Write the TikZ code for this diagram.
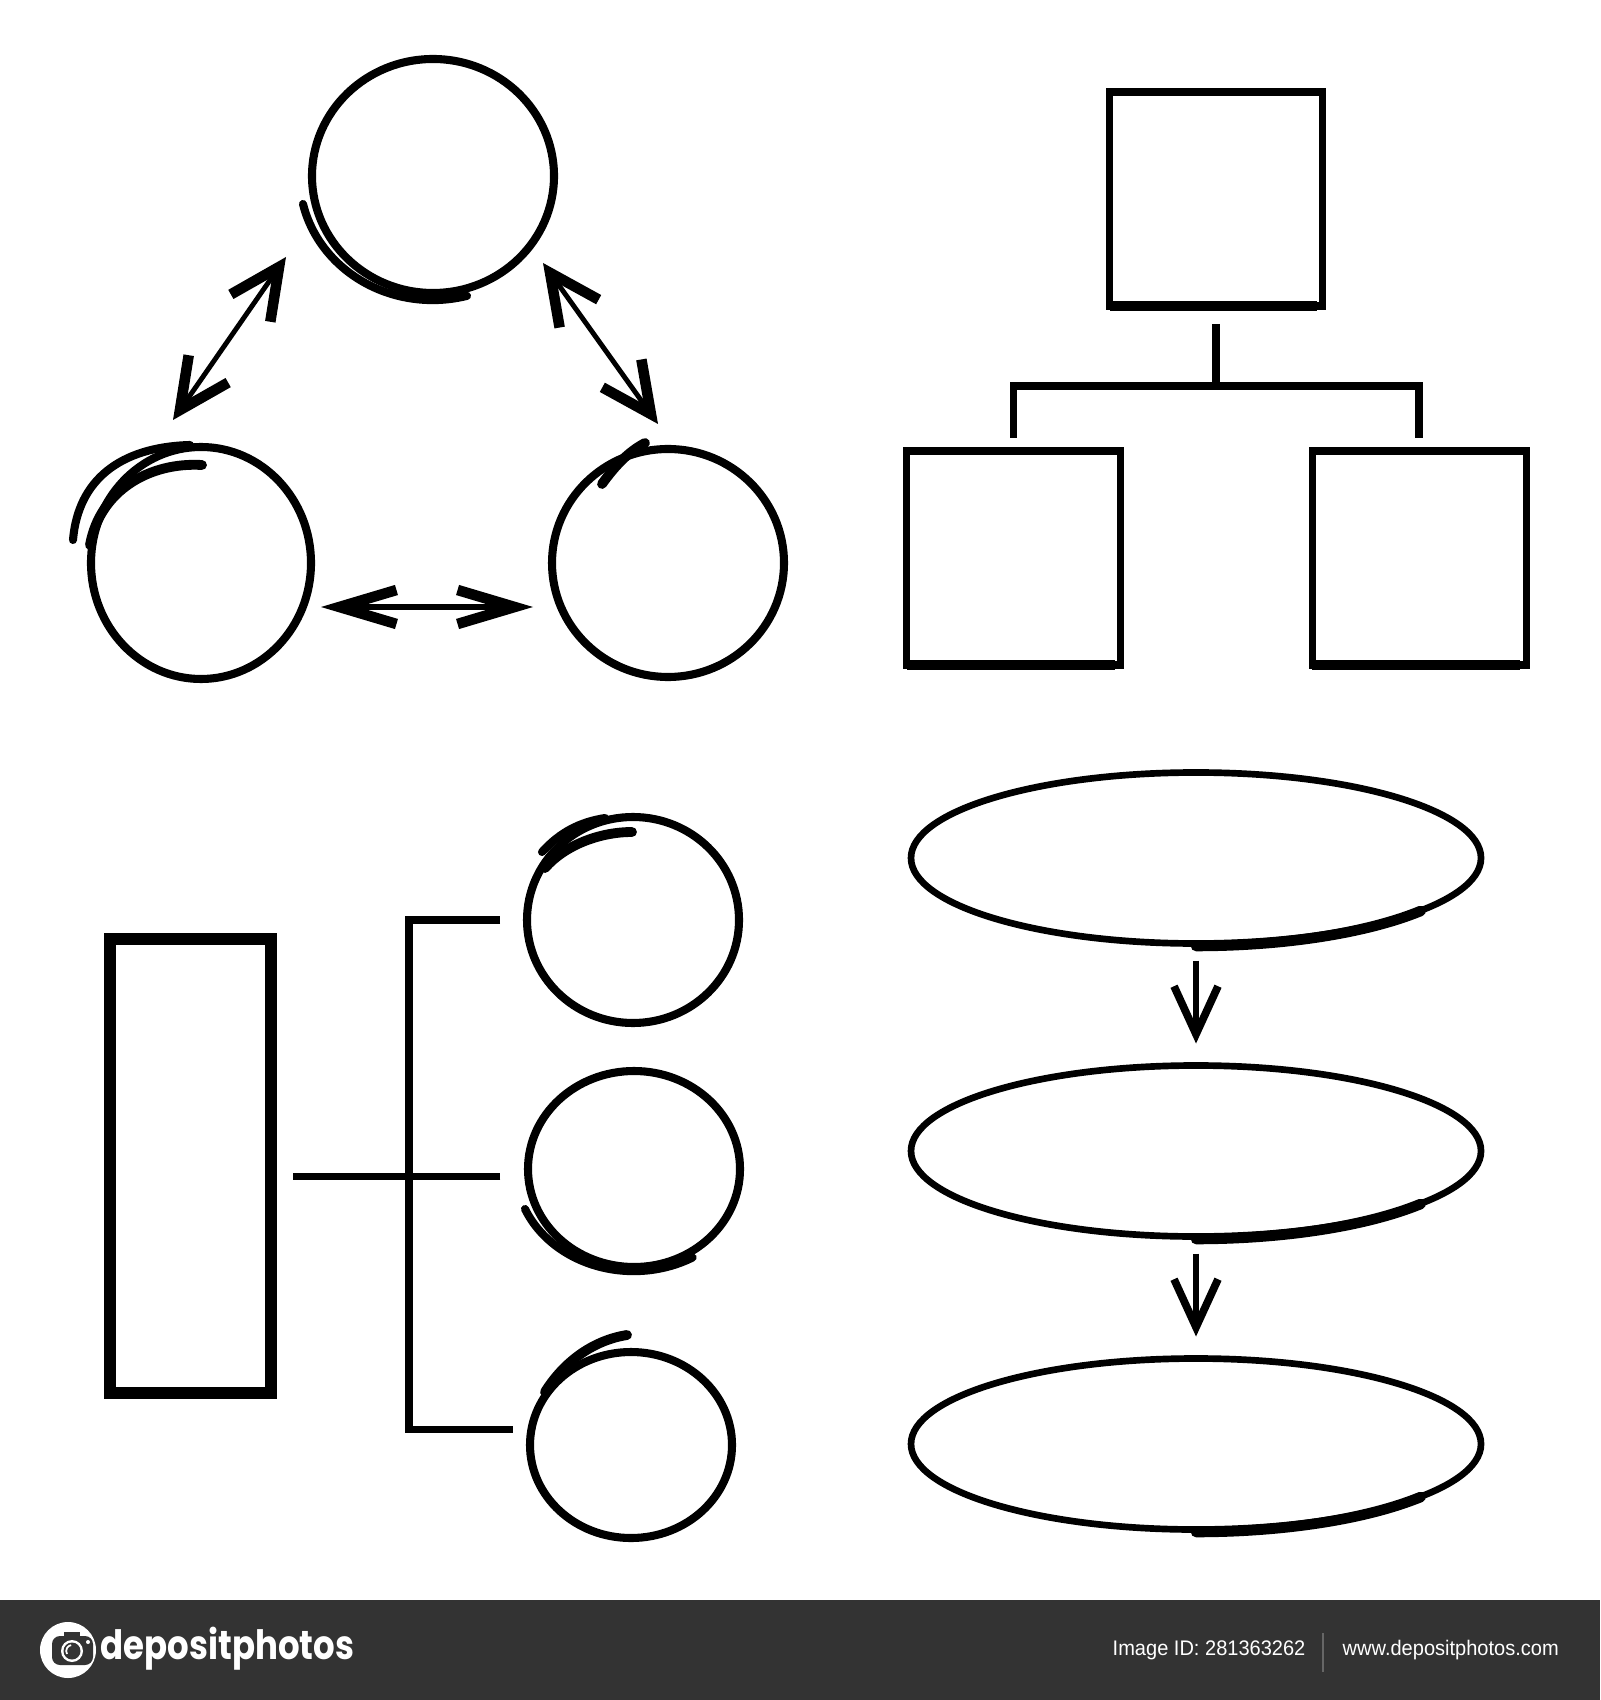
\documentclass[tikz,border=0pt]{standalone}
\usepackage{fontspec}
\usepackage{graphicx}
\setmainfont{Liberation Sans}
\newfontfamily\logofont{Poppins}
\usetikzlibrary{arrows.meta,shapes.geometric}
\definecolor{bannergray}{HTML}{333333}

\begin{document}
\begin{tikzpicture}[x=0.1mm, y=-0.1mm,
        pen/.style={draw, line width=2.3pt, inner sep=0pt, outer sep=0pt},
        blob/.style={pen, ellipse},
        card/.style={pen, rectangle, line width=2pt},
        redo/.style={line width=2.3pt, line cap=round},
        wire/.style={line width=2.1pt},
        barb/.tip={Straight Barb[length=5mm, width=4.8mm, line width=3pt 0]},
        sidebarb/.tip={Straight Barb[length=5.7mm, width=3.4mm, line width=3pt 0]},
        downbarb/.tip={Straight Barb[length=4.8mm, width=4.4mm, line width=2.2pt 0]},
        twoway/.style={line width=1.4pt, barb-barb},
        flat/.style={line width=1.5pt, sidebarb-sidebarb},
        flow/.style={line width=1.8pt, -downbarb}]
        % \draw[help lines, step=100] (0,0) grid (1600,1700);
        \useasboundingbox (0,0) rectangle (1600,1700);

        % cycle
        \node[blob, minimum width=24.2mm, minimum height=23.4mm] (top) at (433,176) {};
        \node[blob, minimum width=22mm, minimum height=23.2mm] (left) at (201,563) {};
        \node[blob, minimum width=23.2mm, minimum height=22.8mm] (right) at (668,563) {};

        \draw[redo] (top.center) ++(-130,28) arc[start angle=167, end angle=75, x radius=133, y radius=124];
        \draw[redo] (73,540) .. controls (78,480) and (120,447) .. (190,445);
        \draw[redo, line width=2.8pt] (202,465) .. controls (150,462) and (100,490) .. (90,545);
        \draw[redo, line width=2.8pt] (602,484) .. controls (615,466) and (628,452) .. (645,443);

        \draw[twoway] ([shift={(-147,81)}]top.center) -- ([shift={(-28,-143)}]left.center);
        \draw[twoway] ([shift={(110,87)}]top.center) -- ([shift={(-10,-139)}]right.center);
        \draw[flat] ([shift={(120,44)}]left.center) -- ([shift={(-135,44)}]right.center);

        % hierarchy
        \node[card, minimum width=21.3mm, minimum height=21.4mm] (boxtop) at (1216,199) {};
        \node[card, minimum width=21.4mm, minimum height=21.4mm] (boxl) at (1013.5,558) {};
        \node[card, minimum width=21.4mm, minimum height=21.4mm] (boxr) at (1419,558) {};
        \foreach \b in {boxtop, boxl, boxr}
            \draw[line width=3pt] (\b.south west) -- ([xshift=-0.6mm]\b.south east);

        \draw[wire] ([yshift=-1.8mm]boxtop.south) -- ++(0,62);
        \draw[wire] ([yshift=1.3mm]boxl.north) |- ([yshift=-8mm]boxtop.south) -| ([yshift=1.3mm]boxr.north);

        % bracket
        \node[card, line width=3.2pt, minimum width=16.1mm, minimum height=45.4mm] (bar) at (190.5,1166) {};
        \node[blob, minimum width=21.2mm, minimum height=20.6mm] (c1) at (633,920) {};
        \node[blob, minimum width=21.2mm, minimum height=19.6mm] (c2) at (634,1169) {};
        \node[blob, minimum width=20.2mm, minimum height=18.6mm] (c3) at (631,1445) {};

        \draw[redo] (542,852) .. controls (560,832) and (580,822) .. (605,818);
        \draw[redo, line width=2.8pt] (632,832) .. controls (600,832) and (565,845) .. (545,868);
        \draw[redo] (c2.center) ++(-109,40) arc[start angle=157, end angle=60, x radius=118, y radius=102];
        \draw[redo, line width=2.8pt] (545,1392) .. controls (565,1360) and (595,1340) .. (627,1335);

        \coordinate (spine) at (409,1176);
        \draw[wire] ([xshift=-2.8mm]c2.184) -- +(-207,0);
        \draw[wire] ([xshift=-2.7mm]c1.west) -| (spine) |- ([xshift=-1.8mm]c3.171);

        % flow
        \node[blob, line width=1.9pt, minimum width=57mm, minimum height=17.1mm] (e1) at (1196,858) {};
        \node[blob, line width=1.9pt, minimum width=57mm, minimum height=17.1mm] (e2) at (1196,1151) {};
        \node[blob, line width=1.9pt, minimum width=57mm, minimum height=17.1mm] (e3) at (1196,1444) {};
        \foreach \e in {e1, e2, e3}
            \draw[redo, line width=3pt] (\e.center) ++(0,88) arc[start angle=90, end angle=38, x radius=285, y radius=91];

        \draw[flow, shorten <=1.7mm, shorten >=2.2mm] (e1) -- (e2);
        \draw[flow, shorten <=1.7mm, shorten >=2.2mm] (e2) -- (e3);

        % banner
        \fill[bannergray] (0,1600) rectangle (1600,1700);
        \fill[white] (68,1650) circle[radius=28];
        \fill[bannergray, rounded corners=0.8mm] (52,1636) rectangle (93,1665);
        \fill[bannergray] (64,1632) rectangle (80,1638);
        \fill[white] (72,1651) circle[radius=11];
        \fill[bannergray] (72,1651) circle[radius=8.5];
        \draw[white, line width=0.5pt] (72,1651) ++(-5,3) arc[start angle=150, end angle=260, radius=6];
        \fill[white] (88,1642) circle[radius=2];

        \node[anchor=west, text=white, inner sep=0pt, font=\logofont\bfseries\fontsize{11.5}{12}\selectfont] (logo) at (100,1649) {\scalebox{0.84}[1]{depositphotos}};
        \node[anchor=west, text=white, inner sep=0pt, font=\fontsize{6}{7}\selectfont] (imageid) at (1112,1650) {\scalebox{0.95}[1]{Image ID: 281363262}};
        \draw[white!25!bannergray] (1323,1633) -- (1323,1672);
        \node[anchor=west, text=white, inner sep=0pt, font=\fontsize{6}{7}\selectfont] (site) at (1342,1650) {\scalebox{0.95}[1]{www.depositphotos.com}};

    \end{tikzpicture}
\end{document}
